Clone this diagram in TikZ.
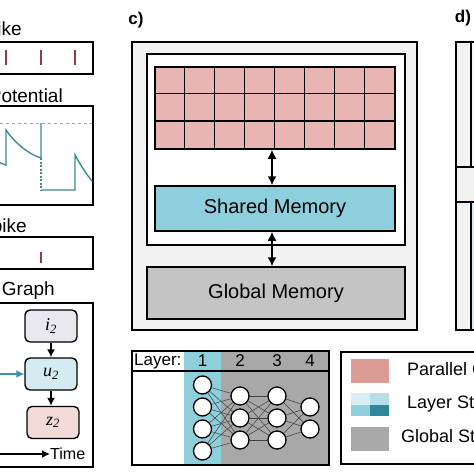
\documentclass[tikz,border=0pt]{standalone}
\usepackage{fontspec}
\setmainfont{Liberation Sans}
\newfontfamily\varfont{Liberation Serif}
\usetikzlibrary{arrows.meta}
\usepackage{xcolor}
\definecolor{corepink}{HTML}{E8B5B2}
\definecolor{sharedblue}{HTML}{8ECFDD}
\definecolor{globalgray}{HTML}{C4C4C4}
\definecolor{panelgray}{HTML}{F2F2F2}
\definecolor{spikered}{HTML}{8B3F3F}
\definecolor{vteal}{HTML}{3D8B92}
\definecolor{inteal}{HTML}{3E93AA}
\definecolor{ifill}{HTML}{E9E7EF}
\definecolor{ufill}{HTML}{D4ECF1}
\definecolor{zfill}{HTML}{F2DAD6}
\definecolor{nnblue}{HTML}{8DCFDB}
\definecolor{nngray}{HTML}{A8A8A8}
\definecolor{legpink}{HTML}{DC9C96}
\definecolor{leggray}{HTML}{A9A9A9}
\definecolor{layA}{HTML}{DAEFF4}
\definecolor{layB}{HTML}{B5DEE8}
\definecolor{layC}{HTML}{8ECFDC}
\definecolor{layD}{HTML}{2E8799}
\definecolor{dtop}{HTML}{F5F8F9}
\definecolor{dlow}{HTML}{D8ECF0}

\begin{document}
\begin{tikzpicture}[x=1pt, y=-1pt,
    box/.style={draw, line width=1.5pt, rectangle, inner sep=0pt},
    gnode/.style={draw, line width=1.4pt, rectangle, rounded corners=5pt, minimum width=52pt, minimum height=32pt, inner sep=0pt, font=\fontsize{18}{20}\selectfont\varfont\itshape},
    neuron/.style={draw, circle, line width=1.3pt, fill=white, minimum size=18pt, inner sep=0pt},
    lbl/.style={inner sep=0pt, font=\fontsize{19}{22}\selectfont},
    biglbl/.style={inner sep=0pt, font=\fontsize{20}{24}\selectfont},
    leglbl/.style={inner sep=0pt, anchor=west, font=\fontsize{18}{21}\selectfont},
    numlbl/.style={inner sep=0pt, font=\fontsize{17}{20}\selectfont},
    tag/.style={inner sep=0pt, font=\fontsize{17}{20}\selectfont\bfseries},
    dbl/.style={{Latex[length=9pt,width=9pt]}-{Latex[length=9pt,width=9pt]}, line width=1.5pt},
    tip/.style={-{Latex[length=8pt,width=8pt]}, line width=1.4pt},
    link/.style={draw=black!75, line width=0.5pt}]
\useasboundingbox (0,0) rectangle (474,474);
\clip (0,0) rectangle (474,474);

% left column
\node[lbl, anchor=base east] (inlbl) at (22,35) {Input Spike};
\node[box, fill=white, minimum width=153pt, minimum height=32pt] (inspk) at (16.5,58) {};
\foreach \sx in {6,41,75}
  \draw[spikered, line width=1.2pt] (\sx,50) -- (\sx,65);

\node[lbl, anchor=base east] (potlbl) at (63,102) {Membrane Potential};
\node[box, fill=white, minimum width=153pt, minimum height=99pt] (pot) at (16.5,155.5) {};
\draw[gray!70, line width=0.8pt, dash pattern=on 3pt off 3pt] (-60,123) -- (92,123);
\draw[vteal, line width=1.4pt] (-5,161) -- (6,165) -- (6,130) .. controls (14,142) and (28,154) .. (41,158) -- (41,123);
\draw[vteal, line width=1.4pt, dash pattern=on 2pt off 1.5pt] (41,158) -- (41,190);
\draw[vteal, line width=1.4pt] (41,190) -- (75,190) -- (75,155) .. controls (80,164) and (86,174) .. (92,181);

\node[lbl, anchor=base east] (outlbl) at (27,232) {Output Spike};
\node[box, fill=white, minimum width=153pt, minimum height=32pt] (outspk) at (16.5,253) {};
\draw[spikered, line width=1.2pt] (41,252) -- (41,263);

\node[lbl, anchor=base east] (graphlbl) at (55,295) {Computational Graph};
\node[box, fill=white, minimum width=153pt, minimum height=164pt] (graph) at (16.5,385) {};
\node[gnode, fill=ifill] (i2) at (51,326) {i\textsubscript{2}};
\node[gnode, fill=ufill] (u2) at (51,374) {u\textsubscript{2}};
\node[gnode, fill=zfill] (z2) at (53,422.5) {z\textsubscript{2}};
\draw[tip] (i2) -- (u2);
\draw[tip] (u2.south) -- (u2.south |- z2.north);
\coordinate (uin) at (-20,374);
\draw[tip, inteal] (uin) -- (u2.west);
\node[inner sep=0pt, anchor=west, font=\fontsize{16}{19}\selectfont] (time) at (50,454) {Time};
\coordinate (tstart) at (-20,454);
\draw[tip] (tstart) -- (time.west);

% panel c
\node[tag] (ctag) at (136,20) {c)};
\node[box, fill=panelgray, minimum width=285pt, minimum height=288pt] (panelc) at (274.5,186) {};
\node[box, fill=white, minimum width=258pt, minimum height=191pt] (block) at (276,149.5) {};
\node[box, fill=corepink, minimum width=240pt, minimum height=82pt] (cores) at (275,108) {};
\foreach \i in {1,...,7}
  \draw[line width=1.5pt] ([xshift=\i*30pt]cores.north west) -- ([xshift=\i*30pt]cores.south west);
\foreach \j in {1,2}
  \draw[line width=1.5pt] ([yshift=-\j*27.33pt]cores.north west) -- ([yshift=-\j*27.33pt]cores.north east);
\node[box, fill=sharedblue, biglbl, minimum width=240pt, minimum height=45pt] (shared) at (275,208.5) {Shared Memory};
\node[box, fill=globalgray, biglbl, minimum width=258pt, minimum height=52pt] (global) at (276,293) {Global Memory};
\draw[dbl] ([xshift=-3pt]cores.south) -- ([xshift=-3pt]shared.north);
\draw[dbl] ([xshift=-3pt]shared.south) -- ([xshift=-4pt]global.north);

% panel d
\node[tag] (dtag) at (463,18) {d)};
\node[box, fill=panelgray, minimum width=80pt, minimum height=288pt] (paneld) at (496,186) {};
\node[box, fill=dtop, minimum width=60pt, minimum height=125pt] (dupper) at (501,104.5) {};
\node[box, fill=panelgray, minimum width=80pt, minimum height=35pt] (dband) at (496,184.5) {};
\node[box, fill=dlow, minimum width=60pt, minimum height=128pt] (dlower) at (501,266) {};

% layer network
\fill[nnblue] (184,351) rectangle (221,465);
\fill[nngray] (221,351) rectangle (329,465);
\node[box, minimum width=197pt, minimum height=114pt] (nnbox) at (230.5,408) {};
\draw[line width=1.5pt] (nnbox.west |- 0,371) -- (nnbox.east |- 0,371);
\node[numlbl, anchor=west] (layerlbl) at (134,361) {Layer:};
\node[numlbl] (l1) at (202.5,361) {1};
\node[numlbl] (l2) at (240,361) {2};
\node[numlbl] (l3) at (277,361) {3};
\node[numlbl] (l4) at (310,361) {4};
\foreach \k/\ny in {1/385,2/407,3/429,4/451}
  \node[neuron] (a\k) at (202.5,\ny) {};
\foreach \k/\ny in {1/396,2/418,3/440} {
  \node[neuron] (b\k) at (240,\ny) {};
  \node[neuron] (c\k) at (277,\ny) {};
}
\foreach \k/\ny in {1/407,2/429}
  \node[neuron] (d\k) at (310,\ny) {};
\foreach \p in {1,...,4}
  \foreach \q in {1,2,3}
    \draw[link] (a\p) -- (b\q);
\foreach \p in {1,2,3}
  \foreach \q in {1,2,3}
    \draw[link] (b\p) -- (c\q);
\foreach \p in {1,2,3}
  \foreach \q in {1,2}
    \draw[link] (c\p) -- (d\q);

% legend
\node[box, minimum width=160pt, minimum height=112pt] (legend) at (421,408) {};
\node[fill=legpink, minimum width=38pt, minimum height=24pt, inner sep=0pt] (swpar) at (370,371) {};
\node[minimum width=38pt, minimum height=23pt, inner sep=0pt] (swlay) at (370,404.5) {};
\fill[layA] (swlay.north west) rectangle (swlay.center);
\fill[layB] (swlay.north east) rectangle (swlay.center);
\fill[layC] (swlay.south west) rectangle (swlay.center);
\fill[layD] (swlay.south east) rectangle (swlay.center);
\node[fill=leggray, minimum width=38pt, minimum height=24pt, inner sep=0pt] (swglob) at (370,439) {};
\node[leglbl] (parlbl) at (407,371) {Parallel Computation};
\node[leglbl] (laylbl) at (407,404) {Layer Storage};
\node[leglbl] (globlbl) at (401,438) {Global Storage};
\end{tikzpicture}
\end{document}
